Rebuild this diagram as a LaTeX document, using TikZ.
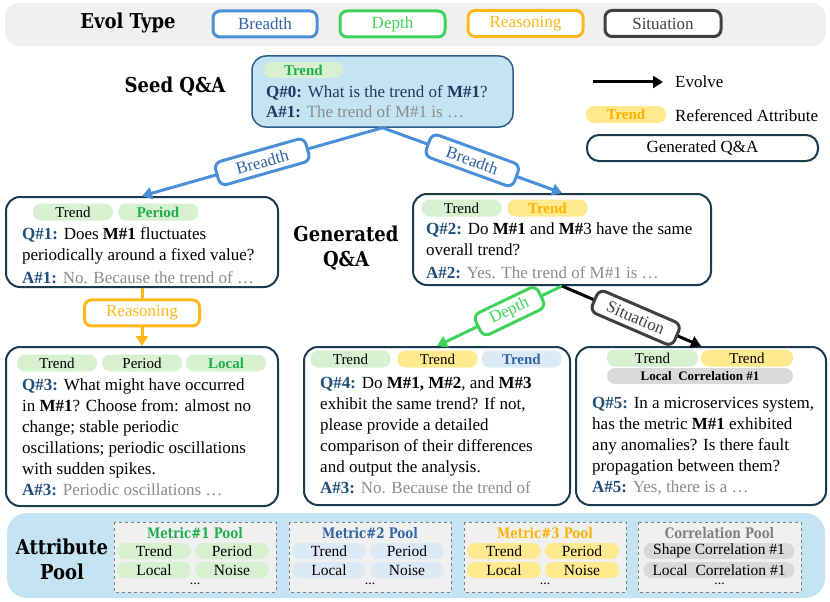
\documentclass[tikz,border=0pt]{standalone}
\usepackage{fontspec}
\setmainfont{Liberation Serif}
\newfontfamily\headfont[FakeStretch=0.88]{DejaVu Serif}
\newfontfamily\poolfont[FakeStretch=0.82]{DejaVu Serif}
\usetikzlibrary{arrows.meta,positioning,calc}

\definecolor{brd}{HTML}{4A90D9}
\definecolor{brdtxt}{HTML}{2F64A6}
\definecolor{dep}{HTML}{3FD35B}
\definecolor{rea}{HTML}{FFB71B}
\definecolor{sit}{HTML}{404040}
\definecolor{navy}{HTML}{1B3A4E}
\definecolor{seedline}{HTML}{2C5D8A}
\definecolor{seednavy}{HTML}{1F3864}
\definecolor{qlab}{HTML}{1F4E79}
\definecolor{agray}{HTML}{8C8C8C}
\definecolor{seedfill}{HTML}{C4E4F4}
\definecolor{barfill}{HTML}{F0F0F0}
\definecolor{chipgreen}{HTML}{D6F0D0}
\definecolor{txtgreen}{HTML}{1DAE4B}
\definecolor{chipblue}{HTML}{DCE9F6}
\definecolor{txtblue}{HTML}{2F64A6}
\definecolor{chipyellow}{HTML}{FFE98E}
\definecolor{txtorange}{HTML}{FFB100}
\definecolor{chipgray}{HTML}{D9D9D9}
\definecolor{txtgray}{HTML}{7F7F7F}

\newcommand{\qastrut}{\rule{0pt}{13pt}}
\newcommand{\ql}[1]{\textbf{\textcolor{qlab}{#1}}}
\newcommand{\al}[2]{\textbf{\textcolor{qlab}{#1}} \textcolor{agray}{#2}}

\begin{document}
\begin{tikzpicture}[x=1pt,y=-1pt,
  evolbox/.style={draw=#1, text=#1, line width=3pt, rounded corners=7pt, fill=white,
    minimum height=24pt, inner xsep=14pt, inner ysep=0pt, font=\fontsize{17}{20}\selectfont},
  evolarrow/.style={draw=#1, line width=3pt, -{Triangle[width=12pt,length=10pt]}},
  qabox/.style={draw=navy, line width=2pt, rounded corners=14pt, fill=white},
  chip/.style={fill=#1, rounded corners=8pt, minimum width=80pt, minimum height=17pt,
    inner sep=0pt, font=\fontsize{15}{17}\selectfont},
  boldchip/.style={chip=#1, font=\bfseries\fontsize{15}{17}\selectfont},
  poolchip/.style={chip=#1, minimum width=74pt, minimum height=16pt, font=\fontsize{15.5}{17}\selectfont},
  qatext/.style={anchor=north west, inner sep=0pt, align=left, font=\fontsize{17}{21}\selectfont},
  heading/.style={font=\headfont\bfseries\fontsize{20.5}{24.5}\selectfont, align=center, inner sep=0pt},
  pooltitle/.style={font=\poolfont\bfseries\fontsize{14.5}{16}\selectfont, inner sep=0pt},
  poolbox/.style={draw=txtgray, dashed, fill=barfill, line width=1pt}]
\useasboundingbox (0,0) rectangle (830,602);

% evol types
\fill[barfill, rounded corners=14pt] (5,3) rectangle (826,46);
\node[heading] (evoltype) at (128,23) {Evol Type};
\node[evolbox=brd, text=brdtxt, minimum width=104pt, minimum height=26pt] (tbreadth) at (265,24) {Breadth};
\node[evolbox=dep, minimum width=105pt, minimum height=26pt] (tdepth) at (392.5,24) {Depth};
\node[evolbox=rea, minimum width=115pt, minimum height=26pt] (treason) at (525.5,23.5) {Reasoning};
\node[evolbox=sit, minimum width=116pt, minimum height=26pt] (tsituation) at (663,23.5) {Situation};

% seed
\node[heading] (seedlbl) at (175,87) {Seed Q\&A};
\node[qabox, draw=seedline, line width=1.5pt, fill=seedfill, minimum width=261pt, minimum height=71pt] (seed) at (382.5,91.5) {};
\node[boldchip=chipgreen, text=txtgreen, minimum width=79pt, minimum height=16pt] (seedchip) at (303.5,70) {Trend};
\node[qatext, text=seednavy, font=\fontsize{17}{20}\selectfont] (seedtxt) at (266,84)
  {\qastrut\textbf{Q\#0:} What is the trend of \textbf{M\#1}?\\
   \textbf{A\#1:} \textcolor{agray}{The trend of M\#1 is \dots}};

% legend
\coordinate (ev1) at (593,82);
\coordinate (ev2) at (663,82);
\draw[evolarrow=black] (ev1) -- (ev2);
\node[anchor=west, inner sep=0pt, font=\fontsize{17}{20}\selectfont] (evolve) at (675,82) {Evolve};
\node[boldchip=chipyellow, text=txtorange] (refchip) at (626,114.5) {Trend};
\node[anchor=west, inner sep=0pt, font=\fontsize{17}{20}\selectfont] (reflbl) at (675,116) {Referenced Attribute};
\node[qabox, rounded corners=12pt, minimum width=231pt, minimum height=26pt, inner sep=0pt,
  font=\fontsize{17}{20}\selectfont] (genlgd) at (702.5,148) {Generated Q\&A};

% generated q&a
\node[heading, font=\headfont\bfseries\fontsize{20.5}{25}\selectfont] (genlbl) at (346,248) {Generated\\Q\&A};

\node[qabox, minimum width=272pt, minimum height=90pt] (q1) at (142,242) {};
\node[chip=chipgreen] (q1c1) at (73,212) {Trend};
\node[boldchip=chipgreen, text=txtgreen] (q1c2) at (158,212) {Period};
\node[qatext] (q1txt) at (22,226)
  {\qastrut\ql{Q\#1:} Does \textbf{M\#1} fluctuates\\
   periodically around a fixed value?\\[2pt]
   \al{A\#1:}{No. Because the trend of \dots}};

\node[qabox, minimum width=298pt, minimum height=91pt] (q2) at (562,239.5) {};
\node[chip=chipgreen] (q2c1) at (461.5,208) {Trend};
\node[boldchip=chipyellow, text=txtorange] (q2c2) at (547.5,208) {Trend};
\node[qatext] (q2txt) at (426,221)
  {\qastrut\ql{Q\#2:} Do \textbf{M\#1} and \textbf{M\#}3 have the same\\
   overall trend?\\[2pt]
   \al{A\#2:}{Yes. The trend of M\#1 is \dots}};

\node[qabox, minimum width=272pt, minimum height=159pt] (q3) at (142,426.5) {};
\node[chip=chipgreen] (q3c1) at (57,363) {Trend};
\node[chip=chipgreen] (q3c2) at (142,363) {Period};
\node[boldchip=chipgreen, text=txtgreen] (q3c3) at (226,363) {Local};
\node[qatext] (q3txt) at (22,377)
  {\qastrut\ql{Q\#3:} What might have occurred\\
   in \textbf{M\#1}? Choose from: almost no\\
   change; stable periodic\\
   oscillations; periodic oscillations\\
   with sudden spikes.\\
   \al{A\#3:}{Periodic oscillations \dots}};

\node[qabox, minimum width=266pt, minimum height=158pt] (q4) at (437,426) {};
\node[chip=chipgreen] (q4c1) at (350.5,359) {Trend};
\node[chip=chipyellow] (q4c2) at (437.5,359) {Trend};
\node[boldchip=chipblue, text=txtblue] (q4c3) at (521.5,359) {Trend};
\node[qatext] (q4txt) at (320,375)
  {\qastrut\ql{Q\#4:} Do \textbf{M\#1, M\#2}, and \textbf{M\#3}\\
   exhibit the same trend? If not,\\
   please provide a detailed\\
   comparison of their differences\\
   and output the analysis.\\
   \al{A\#3:}{No. Because the trend of}};

\node[qabox, minimum width=250pt, minimum height=158pt] (q5) at (701,426) {};
\node[chip=chipgreen, minimum width=91pt] (q5c1) at (652.5,358) {Trend};
\node[chip=chipyellow, minimum width=92pt] (q5c2) at (747,358) {Trend};
\node[chip=chipgray, minimum width=186pt, minimum height=16pt, font=\bfseries\fontsize{13}{15}\selectfont] (q5c3) at (700,376) {Local\ \ Correlation \#1};
\node[qatext] (q5txt) at (592,395)
  {\qastrut\ql{Q\#5:} In a microservices system,\\
   has the metric \textbf{M\#1} exhibited\\
   any anomalies? Is there fault\\
   propagation between them?\\
   \al{A\#5:}{Yes, there is a \dots}};

% evolve arrows
\draw[evolarrow=brd] (seed.south) -- node[evolbox=brd, text=brdtxt, sloped, inner xsep=20pt] {Breadth} (q1.north);
\draw[evolarrow=brd] (seed.south) -- node[evolbox=brd, text=brdtxt, sloped, inner xsep=20pt] {Breadth} (q2.north);
\draw[evolarrow=rea] (q1.south) -- node[evolbox=rea, pos=0.43, minimum width=115pt, minimum height=26pt] {Reasoning} (q3.north);
\draw[evolarrow=dep] (q2.south) -- node[evolbox=dep, sloped, pos=0.42] {Depth} (q4.north);
\draw[evolarrow=black] (q2.south) -- node[evolbox=sit, sloped, pos=0.53] {Situation} (q5.north);

% attribute pool
\fill[seedfill, rounded corners=20pt] (7,513) rectangle (825,598);
\node[heading] (poollbl) at (62,559.5) {Attribute\\Pool};
\foreach \px/\ttl/\tcol/\ccol [count=\i] in {114/Metric\#1 Pool/txtgreen/chipgreen,
    289/Metric\#2 Pool/txtblue/chipblue, 464/Metric\#3 Pool/txtorange/chipyellow}{
  \draw[poolbox] (\px,522) rectangle ++(162,70);
  \node[pooltitle, text=\tcol] (m\i) at (\px+81,533) {\ttl};
  \node[poolchip=\ccol] (m\i trend) at (\px+40,551) {Trend};
  \node[poolchip=\ccol] (m\i period) at (\px+118,551) {Period};
  \node[poolchip=\ccol] (m\i local) at (\px+40,570) {Local};
  \node[poolchip=\ccol] (m\i noise) at (\px+118,570) {Noise};
  \node[font=\fontsize{14}{16}\selectfont, inner sep=0pt] (m\i dots) at (\px+81,584) {...};
}
\draw[poolbox] (638,522) rectangle ++(163,70);
\node[pooltitle, text=txtgray] (corr) at (719.5,533) {Correlation Pool};
\node[poolchip=chipgray, minimum width=151pt] (corrshape) at (719,551) {Shape Correlation \#1};
\node[poolchip=chipgray, minimum width=151pt] (corrlocal) at (719,570) {Local\ \ Correlation \#1};
\node[font=\fontsize{14}{16}\selectfont, inner sep=0pt] (corrdots) at (719.5,584) {...};
\end{tikzpicture}
\end{document}
